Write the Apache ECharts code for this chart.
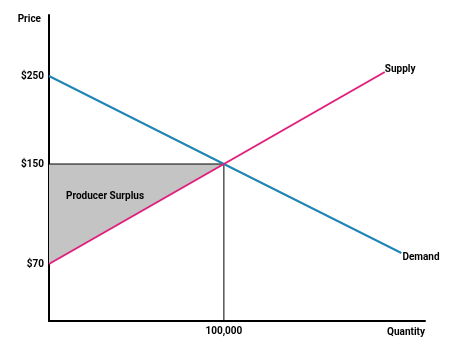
<!DOCTYPE html>
<html><head><meta charset="utf-8">
<script src="https://cdn.jsdelivr.net/npm/echarts@6/dist/echarts.min.js"></script>
<style>html,body{margin:0;padding:0;background:#fff}#c{width:450px;height:349px}</style>
</head><body><div id="c"></div>
<script>
// Schematic chart: the price axis is not to scale in the original, so prices are
// placed on a schematic level scale and labelled with their dollar values.
const priceLabels = ['$70', '$150', '$250'];
const priceLevels = [57, 157, 245];
const quantityTicks = [100000];

const demandQty = [0, 100000, 201500];
const demandLevel = [245, 157, 68];
const supplyQty = [0, 100000, 192000];
const supplyLevel = [57, 157, 249];

const eqQty = 100000;
const eqLevel = 157;
const minSupplyLevel = 57;

const FONT = 'Roboto';
const chart = echarts.init(document.getElementById('c'), null, {renderer: 'canvas'});
const zip = (a, b) => a.map((v, i) => [v, b[i]]);
const surplusPts = [[0, eqLevel], [eqQty, eqLevel], [0, minSupplyLevel]];
const txt = {fill: '#000', fontFamily: FONT, fontWeight: 'bold', fontSize: 10};

chart.setOption({
  animation: false,
  grid: {left: 49, top: 15, right: 25, bottom: 28},
  xAxis: {
    type: 'value', min: 0, max: 215000,
    axisLine: {lineStyle: {color: '#000', width: 2}},
    axisTick: {show: false},
    splitLine: {show: false},
    axisLabel: {customValues: quantityTicks, formatter: v => v.toLocaleString('en-US'), color: '#000', fontFamily: FONT, fontWeight: 'bold', fontSize: 10, margin: 5}
  },
  yAxis: {
    type: 'value', min: 0, max: 306,
    name: 'Price', nameLocation: 'end', nameGap: -4,
    nameTextStyle: {color: '#000', fontFamily: FONT, fontWeight: 'bold', fontSize: 10, align: 'right', verticalAlign: 'middle', padding: [0, 8, 0, 0]},
    axisLine: {show: true, lineStyle: {color: '#000', width: 2}},
    axisTick: {show: false},
    splitLine: {show: false},
    axisLabel: {customValues: priceLevels, formatter: v => priceLabels[priceLevels.indexOf(v)], color: '#000', fontFamily: FONT, fontWeight: 'bold', fontSize: 10, margin: 5}
  },
  graphic: [
    {type: 'text', z: 100, left: 66, top: 191, style: Object.assign({text: 'Producer Surplus'}, txt)},
    {type: 'text', z: 100, right: 25, top: 327, style: Object.assign({text: 'Quantity'}, txt)}
  ],
  series: [
    {
      type: 'custom', name: 'Producer Surplus', data: [0], z: 1,
      renderItem: (params, api) => ({
        type: 'polygon',
        shape: {points: surplusPts.map(p => api.coord(p))},
        style: {fill: '#c4c4c4'}
      })
    },
    {
      type: 'line', symbol: 'none', z: 2, silent: true,
      data: [[0, eqLevel], [eqQty, eqLevel]],
      lineStyle: {color: '#000', width: 1}
    },
    {
      type: 'line', symbol: 'none', z: 2, silent: true,
      data: [[eqQty, 0], [eqQty, eqLevel]],
      lineStyle: {color: '#000', width: 1}
    },
    {
      type: 'line', name: 'Demand', symbol: 'none', z: 3,
      data: zip(demandQty, demandLevel),
      lineStyle: {color: '#1f85b4', width: 2},
      endLabel: {show: true, formatter: 'Demand', color: '#000', fontFamily: FONT, fontWeight: 'bold', fontSize: 10, distance: 1, offset: [0, 4]}
    },
    {
      type: 'line', name: 'Supply', symbol: 'none', z: 4,
      data: zip(supplyQty, supplyLevel),
      lineStyle: {color: '#e01f7c', width: 2},
      endLabel: {show: true, formatter: 'Supply', color: '#000', fontFamily: FONT, fontWeight: 'bold', fontSize: 10, distance: 0, offset: [0, -3]}
    }
  ]
});
</script></body></html>
